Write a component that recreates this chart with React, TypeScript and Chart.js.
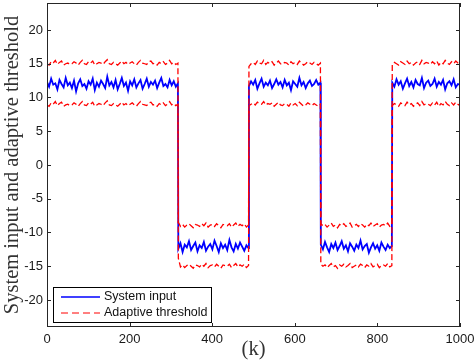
import React, { useEffect, useRef } from "react";
import { Chart, registerables } from "chart.js";

Chart.register(...registerables);

// Segment boundaries (k) where the system input switches sign
const segmentStarts = [0, 318, 489, 663, 836];
const kMax = 1000;

const xTickValues = [0, 200, 400, 600, 800, 1000];
const yTickValues = [-20, -15, -10, -5, 0, 5, 10, 15, 20];

const inputSeg1 = [
  12.3, 11.6, 12.8, 11.9, 12.1, 11.2, 12.6, 12.0, 11.5, 12.9, 11.8, 12.2, 11.4, 12.5, 10.9, 12.1,
  12.7, 11.7, 12.0, 11.3, 12.4, 11.9, 12.8, 11.1, 12.2, 11.6, 12.5, 12.0, 11.4, 13.1, 11.8, 12.3,
  11.5, 12.6, 11.2, 12.0, 12.9, 11.7, 12.2, 11.0, 12.4, 11.8, 12.7, 11.5, 12.1, 12.6, 11.3, 12.0,
  12.8, 11.6, 12.3, 11.9, 12.5, 11.4, 12.2, 12.9, 11.7, 12.0, 11.5, 12.6, 11.8, 12.4, 11.6, 12.1,
];
const inputSeg2 = [
  -12.4, -11.6, -12.9, -11.8, -12.2, -11.3, -12.6, -12.0, -11.5, -12.8, -11.9, -12.3, -11.4, -12.7, -12.1, -11.7,
  -12.5, -11.2, -12.0, -12.9, -11.6, -12.3, -11.8, -12.6, -11.1, -12.2, -12.8, -11.7, -12.4, -11.5, -12.1, -12.7, -11.9, -12.3,
];
const inputSeg3 = [
  11.7, 12.4, 11.9, 12.6, 11.3, 12.1, 12.8, 11.6, 12.2, 11.8, 12.5, 11.4, 12.0, 12.7, 11.9, 12.3, 11.5,
  12.6, 11.8, 12.2, 11.1, 12.4, 12.0, 11.6, 12.9, 11.8, 12.3, 11.4, 12.1, 12.5, 11.7, 12.0, 12.6, 11.9, 12.2,
];
const inputSeg4 = [
  -11.8, -12.5, -11.4, -12.2, -12.9, -11.7, -12.3, -11.5, -12.6, -12.0, -11.3, -12.4, -11.9, -12.8, -11.6, -12.1, -12.7,
  -11.8, -12.3, -11.2, -12.5, -12.0, -11.7, -13.0, -12.2, -11.6, -12.4, -11.9, -12.7, -11.5, -12.1, -12.6, -11.8, -12.3, -12.0,
];
const inputSeg5 = [
  12.2, 11.6, 12.7, 11.9, 12.4, 11.3, 12.1, 12.8, 11.7, 12.3, 11.5, 12.6, 12.0, 11.8, 12.9, 11.4, 12.2,
  12.5, 11.7, 12.0, 12.8, 11.6, 12.3, 11.9, 12.6, 11.2, 12.1, 12.4, 11.8, 12.7, 11.5, 12.0, 11.9,
];

const upperSeg1 = [
  15.0, 14.8, 15.3, 15.1, 15.5, 14.9, 15.2, 15.4, 14.8, 15.0, 15.1, 14.9, 15.0, 15.3, 15.1, 14.8,
  15.2, 15.5, 15.0, 14.9, 15.3, 15.1, 15.4, 14.8, 15.0, 15.2, 15.1, 14.9, 15.3, 15.6, 15.0, 14.9,
  15.2, 15.0, 14.8, 15.1, 15.4, 15.0, 15.2, 14.9, 15.1, 15.3, 15.0, 14.8, 15.2, 15.5, 15.1, 15.0,
  14.9, 15.3, 15.4, 15.0, 15.1, 14.8, 15.2, 15.0, 15.3, 14.9, 15.1, 15.5, 15.0, 15.2, 14.9, 15.1,
];
const upperSeg2 = [
  -8.5, -9.1, -8.8, -9.2, -8.9, -8.7, -9.0, -9.3, -8.8, -8.9, -9.1, -8.7, -9.0, -8.6, -9.2, -8.9,
  -8.8, -9.1, -8.7, -9.0, -9.3, -8.8, -8.9, -9.0, -8.7, -9.2, -8.9, -8.6, -9.1, -8.8, -9.0, -8.7, -9.2, -8.9,
];
const upperSeg3 = [
  14.6, 15.0, 15.2, 14.9, 15.4, 15.1, 15.0, 15.5, 14.9, 15.2, 15.0, 15.3, 14.8, 15.1, 15.4, 15.0, 14.9,
  15.2, 15.1, 14.8, 15.3, 15.0, 15.2, 14.9, 15.4, 15.1, 14.8, 15.0, 15.3, 15.1, 14.9, 15.2, 15.0, 14.8, 15.1,
];
const upperSeg4 = [
  -8.7, -9.0, -8.8, -9.2, -8.9, -8.6, -9.1, -8.9, -9.3, -8.8, -9.0, -8.7, -9.1, -8.9, -8.6, -9.2, -9.0,
  -8.8, -9.1, -8.7, -8.9, -9.2, -8.8, -9.0, -8.6, -9.1, -8.9, -8.7, -9.2, -8.9, -8.8, -9.0, -8.6, -9.1, -8.9,
];
const upperSeg5 = [
  14.9, 15.2, 15.0, 14.8, 15.3, 15.1, 14.9, 15.4, 15.0, 15.2, 14.8, 15.1, 15.3, 14.9, 15.5, 15.0, 15.2,
  15.1, 14.9, 15.3, 15.0, 15.4, 14.8, 15.2, 15.0, 15.5, 15.1, 14.9, 15.3, 15.0, 15.4, 15.1, 14.9,
];

const lowerSeg1 = [
  8.9, 8.7, 9.2, 9.0, 9.4, 8.8, 9.1, 9.3, 8.7, 8.9, 9.0, 8.8, 8.9, 9.2, 9.0, 8.7,
  9.1, 9.4, 8.9, 8.8, 9.2, 9.0, 9.3, 8.7, 8.9, 9.1, 9.0, 8.8, 9.2, 9.5, 8.9, 8.8,
  9.1, 8.9, 8.7, 9.0, 9.3, 8.9, 9.1, 8.8, 9.0, 9.2, 8.9, 8.7, 9.1, 9.4, 9.0, 8.9,
  8.8, 9.2, 9.3, 8.9, 9.0, 8.7, 9.1, 8.9, 9.2, 8.8, 9.0, 9.4, 8.9, 9.1, 8.8, 9.0,
];
const lowerSeg2 = [
  -13.8, -15.1, -14.8, -15.2, -14.9, -14.7, -15.0, -15.3, -14.8, -14.9, -15.1, -14.7, -15.0, -14.6, -15.2, -14.9,
  -14.8, -15.1, -14.7, -15.0, -15.3, -14.8, -14.9, -15.0, -14.7, -15.2, -14.9, -14.6, -15.1, -14.8, -15.0, -14.7, -15.2, -14.9,
];
const lowerSeg3 = [
  8.8, 9.0, 9.2, 8.9, 9.3, 9.1, 9.0, 9.4, 8.9, 9.1, 9.0, 9.2, 8.7, 9.0, 9.3, 8.9, 8.8,
  9.1, 9.0, 8.7, 9.2, 8.9, 9.1, 8.8, 9.3, 9.0, 8.7, 8.9, 9.2, 9.0, 8.8, 9.1, 8.9, 8.7, 9.0,
];
const lowerSeg4 = [
  -14.7, -15.0, -14.8, -15.2, -14.9, -14.6, -15.1, -14.9, -15.3, -14.8, -15.0, -14.7, -15.1, -14.9, -14.6, -15.2, -15.0,
  -14.8, -15.1, -14.7, -14.9, -15.2, -14.8, -15.0, -14.6, -15.1, -14.9, -14.7, -15.2, -14.9, -14.8, -15.0, -14.6, -15.1, -14.9,
];
const lowerSeg5 = [
  8.8, 9.1, 8.9, 8.7, 9.2, 9.0, 8.8, 9.3, 8.9, 9.1, 8.7, 9.0, 9.2, 8.8, 9.4, 8.9, 9.1,
  9.0, 8.8, 9.2, 8.9, 9.3, 8.7, 9.1, 8.9, 9.4, 9.0, 8.8, 9.2, 8.9, 9.3, 9.0, 8.8,
];

const inputSegments = [inputSeg1, inputSeg2, inputSeg3, inputSeg4, inputSeg5];
const upperSegments = [upperSeg1, upperSeg2, upperSeg3, upperSeg4, upperSeg5];
const lowerSegments = [lowerSeg1, lowerSeg2, lowerSeg3, lowerSeg4, lowerSeg5];

const legendLabels = ["System input", "Adaptive threshold"];
const yTitle = "System input and adaptive threshold";
const xTitle = "(k)";

function toPoints(segments: number[][]) {
  const pts: { x: number; y: number }[] = [];
  segments.forEach((vals, s) => {
    const start = segmentStarts[s];
    const end = s + 1 < segmentStarts.length ? segmentStarts[s + 1] - 1 : kMax;
    const n = vals.length;
    vals.forEach((v, i) => {
      pts.push({ x: start + (i * (end - start)) / (n - 1), y: v });
    });
  });
  return pts;
}

const BLUE = "#0000ff";
const RED = "#ff0000";
const TICK_FONT = '"Liberation Sans Narrow", "Liberation Sans", Arial, sans-serif';
const LEGEND_FONT = '"Liberation Sans", Arial, sans-serif';
const SERIF = '"Liberation Serif", "Times New Roman", serif';

const framePlugin = {
  id: "matlabFrame",
  afterDatasetsDraw(chart: any) {
    const { ctx, chartArea, scales } = chart;
    const { left, right, top, bottom } = chartArea;
    const xs = scales.x;
    const ys = scales.y;
    ctx.save();
    ctx.strokeStyle = "#262626";
    ctx.lineWidth = 1;
    ctx.strokeRect(left + 0.5, top + 0.5, right - left - 1, bottom - top - 1);
    const len = 4;
    ctx.beginPath();
    xs.ticks.forEach((t: any) => {
      const px = Math.round(xs.getPixelForValue(t.value)) + 0.5;
      ctx.moveTo(px, bottom);
      ctx.lineTo(px, bottom - len);
      ctx.moveTo(px, top);
      ctx.lineTo(px, top + len);
    });
    ys.ticks.forEach((t: any) => {
      const py = Math.round(ys.getPixelForValue(t.value)) + 0.5;
      ctx.moveTo(left, py);
      ctx.lineTo(left + len, py);
      ctx.moveTo(right, py);
      ctx.lineTo(right - len, py);
    });
    ctx.stroke();

    // legend box (lower-left inside the axes)
    const bx = left + 6;
    const by = bottom - 40;
    const bw = 158;
    const bh = 35;
    ctx.fillStyle = "#ffffff";
    ctx.fillRect(bx, by, bw, bh);
    ctx.strokeStyle = "#000000";
    ctx.strokeRect(bx + 0.5, by + 0.5, bw, bh);
    const rows = [by + 10, by + 26];
    ctx.lineWidth = 1.5;
    ctx.strokeStyle = BLUE;
    ctx.beginPath();
    ctx.moveTo(bx + 8, rows[0]);
    ctx.lineTo(bx + 47, rows[0]);
    ctx.stroke();
    ctx.strokeStyle = RED;
    ctx.lineWidth = 1.2;
    ctx.setLineDash([7, 4]);
    ctx.beginPath();
    ctx.moveTo(bx + 8, rows[1]);
    ctx.lineTo(bx + 47, rows[1]);
    ctx.stroke();
    ctx.setLineDash([]);
    ctx.fillStyle = "#111111";
    ctx.font = `12.5px ${LEGEND_FONT}`;
    ctx.textBaseline = "middle";
    ctx.textAlign = "left";
    ctx.fillText(legendLabels[0], bx + 51, rows[0]);
    ctx.fillText(legendLabels[1], bx + 51, rows[1]);
    ctx.restore();
  },
};

export default function App() {
  const canvasRef = useRef<HTMLCanvasElement | null>(null);

  useEffect(() => {
    document.body.style.margin = "0";
    const canvas = canvasRef.current;
    if (!canvas) return;
    const chart = new Chart(canvas, {
      type: "line",
      data: {
        datasets: [
          {
            label: legendLabels[0],
            data: toPoints(inputSegments),
            borderColor: BLUE,
            borderWidth: 1.8,
            pointRadius: 0,
            tension: 0,
            fill: false,
            order: 2,
          },
          {
            label: legendLabels[1],
            data: toPoints(upperSegments),
            borderColor: RED,
            borderWidth: 1.3,
            borderDash: [6, 3],
            pointRadius: 0,
            tension: 0,
            fill: false,
            order: 1,
          },
          {
            label: legendLabels[1] + " (lower)",
            data: toPoints(lowerSegments),
            borderColor: RED,
            borderWidth: 1.3,
            borderDash: [6, 3],
            pointRadius: 0,
            tension: 0,
            fill: false,
            order: 1,
          },
        ],
      },
      options: {
        animation: false,
        responsive: false,
        maintainAspectRatio: false,
        layout: { padding: { top: 3, right: 14, left: 0, bottom: 0 } },
        plugins: {
          legend: { display: false },
          tooltip: { enabled: false },
        },
        elements: { point: { radius: 0 } },
        scales: {
          x: {
            type: "linear",
            min: 0,
            max: kMax,
            afterBuildTicks: (s: any) => {
              s.ticks = xTickValues.map((v) => ({ value: v }));
            },
            afterFit: (s: any) => {
              s.height = 35;
              s.paddingLeft = 0;
              s.paddingRight = 0;
            },
            grid: { display: false, drawTicks: false },
            border: { display: false },
            ticks: {
              color: "#1a1a1a",
              font: { family: TICK_FONT, size: 13 },
              padding: 5,
              maxRotation: 0,
              autoSkip: false,
              callback: (v: any) => String(v),
            },
            title: {
              display: true,
              text: xTitle,
              color: "#333333",
              font: { family: SERIF, size: 20.5 },
              padding: 0,
            },
          },
          y: {
            type: "linear",
            min: -24,
            max: 24,
            afterBuildTicks: (s: any) => {
              s.ticks = yTickValues.map((v) => ({ value: v }));
            },
            afterFit: (s: any) => {
              s.width = 47;
              s.paddingTop = 0;
              s.paddingBottom = 0;
            },
            grid: { display: false, drawTicks: false },
            border: { display: false },
            ticks: {
              color: "#1a1a1a",
              font: { family: TICK_FONT, size: 13 },
              padding: 4,
              autoSkip: false,
              callback: (v: any) => String(v),
            },
            title: {
              display: true,
              text: yTitle,
              color: "#333333",
              font: { family: SERIF, size: 20.5 },
              padding: 0,
            },
          },
        },
      },
      plugins: [framePlugin],
    });
    return () => chart.destroy();
  }, []);

  return (
    <div style={{ width: 474, height: 362 }}>
      <canvas ref={canvasRef} width={474} height={362} style={{ display: "block" }} />
    </div>
  );
}
